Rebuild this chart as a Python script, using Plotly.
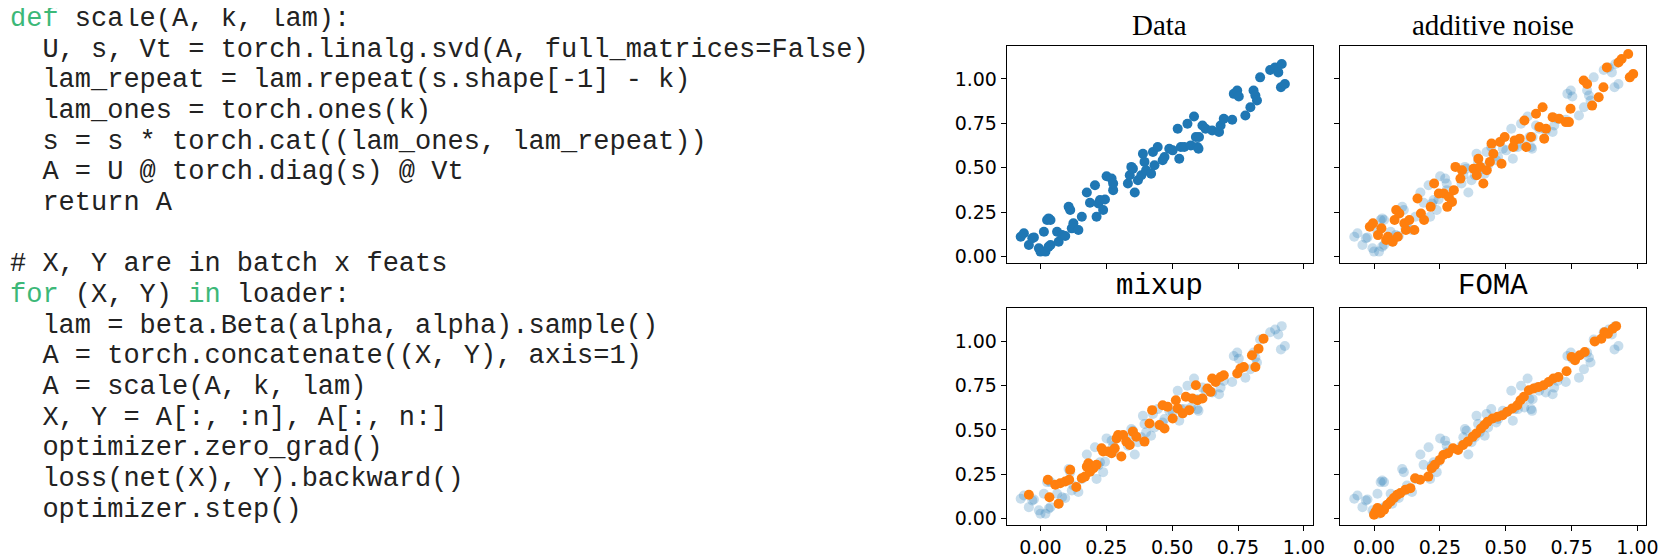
import plotly.graph_objects as go

# original data (x, y)
data_x = [-0.075, -0.063, -0.044, -0.031, -0.025, -0.006, 0.000, 0.019, 0.031, 0.038, 0.013, 0.025, 0.031, 0.038,
          0.063, 0.069, 0.082, 0.094, 0.107, 0.113, 0.119, 0.125, 0.144, 0.157, 0.176, 0.188, 0.207, 0.213, 0.220,
          0.226, 0.238, 0.245, 0.251, 0.270, 0.276, 0.276, 0.332, 0.339, 0.345, 0.351, 0.358, 0.370, 0.383, 0.389,
          0.395, 0.401, 0.420, 0.427, 0.433, 0.445, 0.464, 0.471, 0.489, 0.502, 0.521, 0.527, 0.533, 0.546, 0.558,
          0.571, 0.583, 0.590, 0.596, 0.600, 0.602, 0.615, 0.627, 0.652, 0.678, 0.684, 0.696, 0.728, 0.734, 0.747,
          0.753, 0.778, 0.797, 0.809, 0.816, 0.822, 0.834, 0.872, 0.891, 0.903, 0.916, 0.913, 0.928]
data_y = [0.112, 0.131, 0.065, 0.103, 0.108, 0.047, 0.028, 0.028, 0.056, 0.065, 0.140, 0.206, 0.215, 0.206,
          0.140, 0.084, 0.121, 0.116, 0.280, 0.262, 0.159, 0.187, 0.150, 0.224, 0.361, 0.303, 0.402, 0.224, 0.299,
          0.318, 0.262, 0.321, 0.452, 0.439, 0.374, 0.411, 0.411, 0.458, 0.505, 0.495, 0.361, 0.430, 0.458, 0.579,
          0.533, 0.486, 0.467, 0.589, 0.514, 0.617, 0.542, 0.561, 0.607, 0.598, 0.720, 0.551, 0.617, 0.617, 0.748,
          0.626, 0.789, 0.673, 0.617, 0.607, 0.673, 0.738, 0.720, 0.710, 0.701, 0.738, 0.776, 0.770, 0.916, 0.935,
          0.901, 0.794, 0.841, 0.935, 0.907, 0.879, 1.009, 1.050, 1.065, 1.037, 1.084, 0.953, 0.972]

# additive noise
add_x = [-0.016, -0.004, 0.015, 0.028, 0.046, 0.053, 0.071, 0.084, 0.090, 0.078, 0.096, 0.115, 0.121, 0.134,
         0.153, 0.165, 0.178, 0.190, 0.215, 0.228, 0.246, 0.265, 0.278, 0.284, 0.296, 0.303, 0.309, 0.328, 0.334,
         0.378, 0.390, 0.396, 0.403, 0.415, 0.428, 0.440, 0.446, 0.453, 0.478, 0.484, 0.496, 0.528, 0.534, 0.553,
         0.571, 0.578, 0.596, 0.615, 0.628, 0.640, 0.646, 0.653, 0.678, 0.703, 0.728, 0.740, 0.746, 0.796, 0.809,
         0.828, 0.853, 0.871, 0.884, 0.928, 0.940, 0.965, 0.971, 0.984]
add_y = [0.168, 0.187, 0.121, 0.159, 0.093, 0.112, 0.084, 0.262, 0.112, 0.206, 0.243, 0.187, 0.150, 0.206,
         0.150, 0.327, 0.243, 0.206, 0.280, 0.411, 0.355, 0.355, 0.280, 0.336, 0.308, 0.374, 0.505, 0.439, 0.486,
         0.495, 0.458, 0.551, 0.505, 0.411, 0.486, 0.533, 0.636, 0.579, 0.645, 0.523, 0.673, 0.617, 0.654, 0.664,
         0.766, 0.617, 0.673, 0.804, 0.729, 0.841, 0.664, 0.720, 0.785, 0.776, 0.757, 0.757, 0.832, 0.991, 0.972,
         0.850, 0.897, 0.953, 1.065, 1.093, 1.112, 1.140, 1.009, 1.028]

# mixup
mix_x = [-0.044, 0.028, 0.034, 0.069, 0.056, 0.075, 0.094, 0.109, 0.113, 0.136, 0.157, 0.169, 0.176, 0.182,
         0.188, 0.201, 0.213, 0.232, 0.238, 0.257, 0.270, 0.282, 0.289, 0.295, 0.307, 0.314, 0.326, 0.339, 0.351,
         0.364, 0.395, 0.414, 0.424, 0.452, 0.464, 0.471, 0.483, 0.502, 0.514, 0.521, 0.540, 0.552, 0.565, 0.577,
         0.590, 0.596, 0.615, 0.634, 0.646, 0.652, 0.665, 0.684, 0.696, 0.747, 0.759, 0.772, 0.803, 0.816, 0.828,
         0.847]
mix_y = [0.135, 0.219, 0.121, 0.084, 0.191, 0.200, 0.209, 0.219, 0.275, 0.178, 0.228, 0.237, 0.293, 0.312,
         0.265, 0.284, 0.303, 0.396, 0.378, 0.378, 0.368, 0.396, 0.452, 0.471, 0.350, 0.471, 0.434, 0.415, 0.490,
         0.462, 0.434, 0.536, 0.611, 0.527, 0.639, 0.508, 0.630, 0.564, 0.667, 0.621, 0.593, 0.686, 0.611, 0.677,
         0.751, 0.667, 0.677, 0.733, 0.714, 0.789, 0.770, 0.798, 0.807, 0.817, 0.845, 0.854, 0.920, 0.854, 0.957,
         1.013]

# FOMA
foma_x = [0.000, 0.006, 0.013, 0.025, 0.038, 0.050, 0.063, 0.075, 0.088, 0.100, 0.119, 0.138, 0.156, 0.175,
          0.206, 0.219, 0.231, 0.250, 0.263, 0.281, 0.300, 0.319, 0.338, 0.356, 0.375, 0.388, 0.406, 0.419, 0.431,
          0.450, 0.469, 0.488, 0.506, 0.525, 0.544, 0.556, 0.569, 0.588, 0.606, 0.625, 0.644, 0.663, 0.681, 0.700,
          0.731, 0.750, 0.763, 0.781, 0.800, 0.838, 0.863, 0.875, 0.888, 0.906, 0.919]
foma_y = [0.022, 0.041, 0.060, 0.032, 0.050, 0.079, 0.097, 0.116, 0.135, 0.144, 0.163, 0.172, 0.228, 0.219,
          0.237, 0.284, 0.303, 0.331, 0.359, 0.368, 0.396, 0.387, 0.415, 0.434, 0.462, 0.480, 0.508, 0.527, 0.546,
          0.564, 0.574, 0.583, 0.602, 0.621, 0.639, 0.667, 0.686, 0.723, 0.733, 0.742, 0.751, 0.770, 0.789, 0.798,
          0.830, 0.910, 0.892, 0.920, 0.938, 0.998, 1.013, 1.050, 1.041, 1.069, 1.084]

code_lines = [
    "<span style='color:#3cb878'>def</span> scale(A, k, lam):",
    "  U, s, Vt = torch.linalg.svd(A, full_matrices=False)",
    "  lam_repeat = lam.repeat(s.shape[-1] - k)",
    "  lam_ones = torch.ones(k)",
    "  s = s * torch.cat((lam_ones, lam_repeat))",
    "  A = U @ torch.diag(s) @ Vt",
    "  return A",
    "",
    "# X, Y are in batch x feats",
    "<span style='color:#3cb878'>for</span> (X, Y) <span style='color:#3cb878'>in</span> loader:",
    "  lam = beta.Beta(alpha, alpha).sample()",
    "  A = torch.concatenate((X, Y), axis=1)",
    "  A = scale(A, k, lam)",
    "  X, Y = A[:, :n], A[:, n:]",
    "  optimizer.zero_grad()",
    "  loss(net(X), Y).backward()",
    "  optimizer.step()",
]

W, H = 1666, 559
BLUE, ORANGE = "#1f77b4", "#ff7f0e"

fig = go.Figure()

panels = [  # (title, font, orange x, orange y, axis suffix)
    ("Data", "Liberation Serif", None, None, ""),
    ("additive noise", "Liberation Serif", add_x, add_y, "2"),
    ("mixup", "Liberation Mono", mix_x, mix_y, "3"),
    ("FOMA", "Liberation Mono", foma_x, foma_y, "4"),
]
xdoms = [[1006 / W, 1314 / W], [1342 / W, 1650 / W]]
ydoms = [[1 - 257 / H, 1 - 38 / H], [1 - 521 / H, 1 - 302 / H]]

for i, (title, tfont, ox, oy, ax) in enumerate(panels):
    col, row = i % 2, i // 2
    fig.add_trace(go.Scatter(x=data_x, y=data_y, mode="markers", xaxis="x" + ax, yaxis="y" + ax,
                             marker=dict(color=BLUE, size=10, opacity=1.0 if ox is None else 0.25, line_width=0),
                             showlegend=False))
    if ox is not None:
        fig.add_trace(go.Scatter(x=ox, y=oy, mode="markers", xaxis="x" + ax, yaxis="y" + ax,
                                 marker=dict(color=ORANGE, size=10, line_width=0), showlegend=False))
    axis_style = dict(showline=True, mirror=True, linecolor="black", linewidth=1, ticks="outside",
                      ticklen=5, tickcolor="black", showgrid=False, zeroline=False,
                      tickfont=dict(family="DejaVu Sans", size=19, color="black"))
    fig.layout["xaxis" + ax] = dict(domain=xdoms[col], anchor="y" + ax, range=[-0.128, 1.033],
                                   tickvals=[0, 0.25, 0.5, 0.75, 1.0], ticktext=["0.00", "0.25", "0.50", "0.75", "1.00"],
                                   showticklabels=(row == 1), **axis_style)
    fig.layout["yaxis" + ax] = dict(domain=ydoms[row], anchor="x" + ax, range=[-0.037, 1.187],
                                   tickvals=[0, 0.25, 0.5, 0.75, 1.0], ticktext=["0.00", "0.25", "0.50", "0.75", "1.00"],
                                   showticklabels=(col == 0), **axis_style)
    fig.add_annotation(text=title, xref="paper", yref="paper", x=sum(xdoms[col]) / 2, y=ydoms[row][1] + 3 / H,
                       xanchor="center", yanchor="bottom", showarrow=False,
                       font=dict(family=tfont, size=29, color="black"))

for j, line in enumerate(code_lines):
    fig.add_annotation(text=line, xref="paper", yref="paper", x=0, y=1 - (11 + j * 30.9) / H,
                       xanchor="left", yanchor="middle", showarrow=False, align="left",
                       font=dict(family="Liberation Mono", size=27, color="#222"))

fig.update_layout(width=W, height=H, margin=dict(l=0, r=0, t=0, b=0),
                  paper_bgcolor="white", plot_bgcolor="white")
fig.write_html("out.html")
